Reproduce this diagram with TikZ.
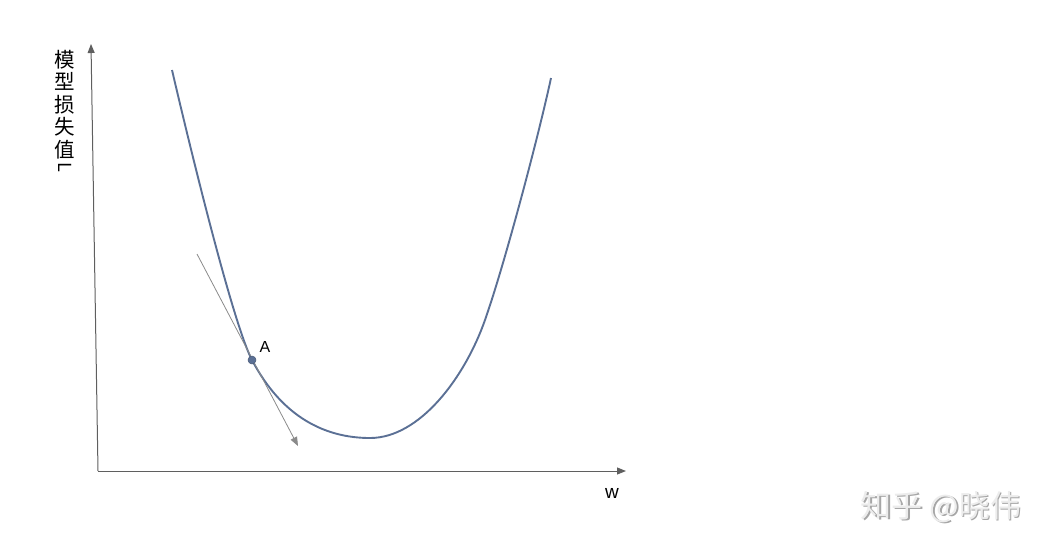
\documentclass[tikz,border=0pt]{standalone}
\usepackage{fontspec}
\setmainfont{Liberation Sans}
\newfontfamily\cjk{Noto Sans CJK SC}
\usetikzlibrary{arrows.meta}
\definecolor{curveblue}{HTML}{5B7095}
\definecolor{axisgray}{HTML}{5F5F5F}
\definecolor{tangray}{HTML}{8A8A8A}
\tikzset{
  axis/.style={draw=axisgray, line width=1pt, -{Triangle[length=9pt,width=7pt]}},
  lossline/.style={draw=curveblue, line width=1.9pt},
  tanline/.style={draw=tangray, line width=0.8pt, -{Triangle[length=9pt,width=7pt]}},
  lbl/.style={inner sep=0pt, text=black},
}
\begin{document}
\begin{tikzpicture}[x=1pt,y=-1pt]
\useasboundingbox (0,0) rectangle (1050,550);
\coordinate (O) at (98,471);
\coordinate (Ytop) at (91,44);
\coordinate (Xend) at (626,471);
\draw[axis] (O) -- (Ytop);
\draw[axis] (O) -- (Xend);
\node[lbl, anchor=north, align=center, font=\cjk\fontsize{20.5}{22.5}\selectfont] (ylab) at (65,50)
  {模\\型\\损\\失\\值\\[-6pt]\rotatebox[origin=c]{-90}{\fontsize{18}{18}\selectfont L}};
\node[lbl, font=\fontsize{19}{22}\selectfont] (xlab) at (612,493) {w};
\coordinate (P0) at (172,70);
\coordinate (Pmin) at (370,438);
\coordinate (P3) at (485,320);
\coordinate (P4) at (551,78);
\draw[lossline] (P0) .. controls (197,177) and (235,328) .. (252,360)
  .. controls (282,417) and (325,438) .. (Pmin)
  .. controls (420,438) and (465,377) .. (P3)
  .. controls (505,263) and (539,134) .. (P4);
\coordinate (T1) at (197,254);
\coordinate (T2) at (298,446);
\draw[tanline] (T1) -- (T2);
\node[circle, fill=curveblue, draw=curveblue!80!black, line width=0.5pt, minimum size=8pt, inner sep=0pt] (A) at (252,360) {};
\node[lbl, font=\fontsize{16}{18}\selectfont] (alab) at (265,347) {A};
\node[lbl, font=\cjk\fontsize{31}{34}\selectfont, text=gray!70] (wm1) at (942.2,508.2) {知乎 @晓伟};
\node[lbl, font=\cjk\fontsize{31}{34}\selectfont, text=gray!15] (wm) at (941,507) {知乎 @晓伟};
\end{tikzpicture}
\end{document}
